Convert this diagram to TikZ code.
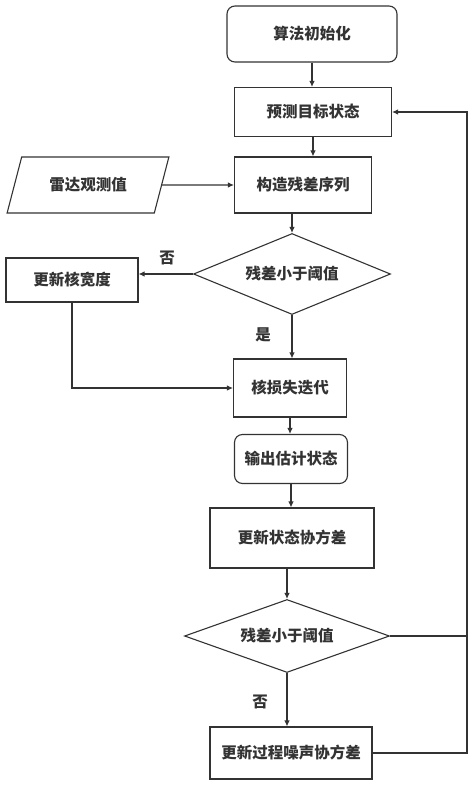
\documentclass[tikz,border=0pt]{standalone}
\usepackage{fontspec}
\newfontfamily\cjk{Noto Sans CJK SC}
\usetikzlibrary{shapes.geometric,arrows.meta,positioning}

\tikzset{
  box/.style={draw, rectangle, inner sep=0pt, align=center},
  rbox/.style={box, rounded corners=8pt},
  dia/.style={draw, diamond, inner sep=0pt, aspect=2.4},
  para/.style={draw, trapezium, trapezium left angle=60, trapezium right angle=120,
    trapezium stretches=true, inner sep=0pt},
  lbl/.style={inner sep=0pt},
  arr/.style={-{Latex[length=6pt,width=5.5pt]}}
}

\begin{document}
\begin{tikzpicture}[x=1pt, y=-1pt, line width=1.1pt, draw=black!80,
  every node/.style={font=\cjk\bfseries\fontsize{15.5}{18}\selectfont, text=black!80}]
  \useasboundingbox (0,0) rectangle (474,786);
  \node[rbox, minimum width=170pt, minimum height=56pt] (init) at (312,34) {算法初始化};
  \node[box, minimum width=157pt, minimum height=49pt] (predict) at (313,112) {预测目标状态};
  \node[box, minimum width=137pt, minimum height=56pt] (resid) at (303,185) {构造残差序列};
  \node[para, minimum width=163pt, minimum height=56pt] (radar) at (88,185) {雷达观测值};
  \node[dia, minimum width=197pt, minimum height=81pt] (check1) at (292,274) {残差小于阈值};
  \node[box, minimum width=132pt, minimum height=44pt] (kwidth) at (72,280) {更新核宽度};
  \node[box, minimum width=113pt, minimum height=58pt] (kloss) at (290,388) {核损失迭代};
  \node[rbox, minimum width=113pt, minimum height=49pt] (output) at (291,459) {输出估计状态};
  \node[box, minimum width=164pt, minimum height=60pt] (statecov) at (292,538) {更新状态协方差};
  \node[dia, minimum width=205pt, minimum height=73pt] (check2) at (287,636) {残差小于阈值};
  \node[box, minimum width=162pt, minimum height=52pt] (noisecov) at (291,753) {更新过程噪声协方差};
  \node[lbl] (no1) at (167,258) {否};
  \node[lbl] (yes1) at (263,335) {是};
  \node[lbl] (no2) at (260,702) {否};
  \coordinate (fb) at (467,753);

  \draw[arr] (init.south) -- (init.south |- predict.north);
  \draw[arr] (predict.south) -- (predict.south |- resid.north);
  \draw[arr] (radar.east) -- (resid.west);
  \draw[arr] (check1.north |- resid.south) -- (check1.north);
  \draw[arr] (check1.west) -- (check1.west -| kwidth.east);
  \draw[arr] (check1.south) -- (check1.south |- kloss.north);
  \draw[arr] (kwidth.south) |- (kloss.west);
  \draw[arr] (kloss.south) -- (kloss.south |- output.north);
  \draw[arr] (output.south) -- (output.south |- statecov.north);
  \draw[arr] (check2.north |- statecov.south) -- (check2.north);
  \draw[arr] (check2.south) -- (check2.south |- noisecov.north);
  \draw[arr] (noisecov.east) -- (fb) |- (predict.east);
  \draw (check2.east) -- (check2.east -| fb);
\end{tikzpicture}
\end{document}
